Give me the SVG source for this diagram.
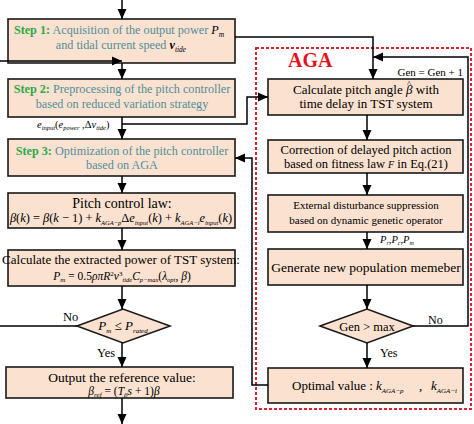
<svg xmlns="http://www.w3.org/2000/svg" width="474" height="424" viewBox="0 0 474 424">
<defs>
<marker id="ah" viewBox="0 0 10 10" refX="10" refY="5" markerWidth="10" markerHeight="10" markerUnits="userSpaceOnUse" orient="auto">
<path d="M0,0.5 L10,5 L0,9.5 Z" fill="#000"/>
</marker>
<style>
.box{fill:#fbe1cf;stroke:#1a1a1a;stroke-width:1.6}
.ln{fill:none;stroke:#000;stroke-width:1.5}
.t{font-family:"Liberation Serif","Times New Roman",serif;fill:#000}
.st{font-family:"Liberation Serif","Times New Roman",serif;fill:#4f8f9b;font-size:12.2px}
.g{fill:#2ea84a;font-weight:bold}
.i{font-style:italic}
</style>
</defs>
<rect width="474" height="424" fill="#fff"/>

<g id="aga-frame">
<rect x="256" y="48" width="215" height="361" fill="none" stroke="#e0202a" stroke-width="2" stroke-dasharray="3,2"/>
<text class="t" x="288" y="67" font-size="20" font-weight="bold" style="fill:#e8101c">AGA</text>
</g>

<g id="step1">
<rect class="box" x="8" y="19" width="227" height="44"/>
<text class="st" x="119" y="34" text-anchor="middle"><tspan class="g">Step 1:</tspan> Acquisition of the output power  <tspan class="i" fill="#000">P</tspan><tspan class="i" fill="#000" font-size="7.5" dy="3">m</tspan></text>
<text class="st" x="121" y="49" text-anchor="middle">and tidal current speed <tspan class="i" fill="#000" font-weight="bold">v</tspan><tspan class="i" fill="#000" font-size="7.5" dy="3">tide</tspan></text>
</g>

<g id="step2">
<rect class="box" x="8" y="79" width="227" height="38"/>
<text class="st" x="122" y="93" text-anchor="middle"><tspan class="g">Step 2:</tspan> Preprocessing of the pitch controller</text>
<text class="st" x="122" y="108" text-anchor="middle">based on reduced variation strategy</text>
</g>

<g id="step3">
<rect class="box" x="8" y="139" width="227" height="37"/>
<text class="st" x="122" y="155" text-anchor="middle"><tspan class="g">Step 3:</tspan> Optimization of the pitch controller</text>
<text class="st" x="122" y="169" text-anchor="middle">based on AGA</text>
</g>

<g id="pitch-law">
<rect class="box" x="8" y="193" width="227" height="35"/>
<text class="t" x="122" y="208" font-size="14" text-anchor="middle">Pitch control law:</text>
<text class="t" x="121" y="222" font-size="12.4" text-anchor="middle"><tspan class="i">β</tspan>(<tspan class="i">k</tspan>) = <tspan class="i">β</tspan>(<tspan class="i">k</tspan> − 1) + <tspan class="i">k</tspan><tspan class="i" font-size="6.5" dy="2.5">AGA−p</tspan><tspan dy="-2.5">Δ</tspan><tspan class="i">e</tspan><tspan class="i" font-size="6.5" dy="2.5">input</tspan><tspan dy="-2.5">(</tspan><tspan class="i">k</tspan>) + <tspan class="i">k</tspan><tspan class="i" font-size="6.5" dy="2.5">AGA−i</tspan><tspan class="i" dy="-2.5">e</tspan><tspan class="i" font-size="6.5" dy="2.5">input</tspan><tspan dy="-2.5">(</tspan><tspan class="i">k</tspan>)</text>
</g>

<g id="extracted-power">
<rect class="box" x="8" y="250" width="227" height="36"/>
<text class="t" x="121" y="264" font-size="13" text-anchor="middle">Calculate the extracted power of  TST system:</text>
<text class="t" x="122" y="280" font-size="11.5" text-anchor="middle"><tspan class="i">P</tspan><tspan class="i" font-size="7" dy="2">m</tspan><tspan dy="-2"> = 0.5</tspan><tspan class="i">ρπR</tspan><tspan font-size="7" dy="-4">2</tspan><tspan class="i" dy="4">v</tspan><tspan font-size="7" dy="-4">3</tspan><tspan class="i" font-size="6.5" dy="6">tide</tspan><tspan class="i" dy="-2">C</tspan><tspan class="i" font-size="6.5" dy="2">p−max</tspan><tspan dy="-2">(</tspan><tspan class="i">λ</tspan><tspan class="i" font-size="6.5" dy="2">opt</tspan><tspan dy="-2">, </tspan><tspan class="i">β</tspan>)</text>
</g>

<g id="decision-power">
<polygon class="box" points="77,326 123,309 170,326 123,343"/>
<text class="t" x="123" y="330" font-size="13" text-anchor="middle"><tspan class="i">P</tspan><tspan class="i" font-size="7" dy="2.5">m</tspan><tspan dy="-2.5"> ≤ </tspan><tspan class="i">P</tspan><tspan class="i" font-size="7" dy="2.5">rated</tspan></text>
<text class="t" x="63" y="321" font-size="12.5">No</text>
<text class="t" x="97" y="357" font-size="12.5">Yes</text>
</g>

<g id="output">
<rect class="box" x="6" y="367" width="227" height="31"/>
<text class="t" x="122" y="382" font-size="13.5" text-anchor="middle">Output the reference value:</text>
<text class="t" x="124" y="395" font-size="11.5" text-anchor="middle"><tspan class="i">β</tspan><tspan class="i" font-size="7" dy="2">ref</tspan><tspan dy="-2"> = (</tspan><tspan class="i">T</tspan><tspan class="i" font-size="7" dy="2">β</tspan><tspan class="i" dy="-2">s</tspan> + 1)<tspan class="i">β</tspan></text>
</g>

<g id="calc-pitch">
<rect class="box" x="268" y="79" width="195" height="36"/>
<text class="t" x="366" y="94" font-size="13" text-anchor="middle">Calculate pitch angle  <tspan class="i">β</tspan><tspan font-size="9" dx="-5.6" dy="-7">^</tspan><tspan dx="1.5" dy="7">  with</tspan></text>
<text class="t" x="366" y="108" font-size="13" text-anchor="middle">time delay in TST system</text>
</g>

<g id="correction">
<rect class="box" x="268" y="140" width="195" height="33"/>
<text class="t" x="366" y="154" font-size="12.5" text-anchor="middle">Correction of delayed pitch action</text>
<text class="t" x="366" y="168" font-size="12.5" text-anchor="middle">based on fitness law <tspan class="i" font-size="10">F</tspan> in Eq.(21)</text>
</g>

<g id="disturbance">
<rect class="box" x="268" y="195" width="195" height="37"/>
<text class="t" x="366" y="209" font-size="11" text-anchor="middle">External disturbance suppression</text>
<text class="t" x="366" y="224" font-size="11" text-anchor="middle">based on dynamic genetic operator</text>
</g>

<g id="generate">
<rect class="box" x="268" y="249" width="195" height="36"/>
<text class="t" x="366" y="272" font-size="13.5" text-anchor="middle">Generate  new population memeber</text>
</g>

<g id="decision-gen">
<polygon class="box" points="320,326 367,309 413,326 367,343"/>
<text class="t" x="367" y="331" font-size="12.5" text-anchor="middle">Gen &gt; max</text>
<text class="t" x="428" y="324" font-size="12">No</text>
<text class="t" x="380" y="357" font-size="12">Yes</text>
</g>

<g id="optimal">
<rect class="box" x="268" y="368" width="195" height="35"/>
<text class="t" x="292" y="390" font-size="13">Optimal value : </text>
<text class="t" x="376" y="390" font-size="13"><tspan class="i">k</tspan><tspan class="i" font-size="7" dy="2.5">AGA−p</tspan></text>
<text class="t" x="419" y="390" font-size="13">,</text>
<text class="t" x="431" y="390" font-size="13"><tspan class="i">k</tspan><tspan class="i" font-size="7" dy="2.5">AGA−i</tspan></text>
</g>

<g id="labels">
<text class="t" x="37" y="128" font-size="10.5"><tspan class="i">e</tspan><tspan class="i" font-size="6.5" dy="2">input</tspan><tspan dy="-2">(</tspan><tspan class="i">e</tspan><tspan class="i" font-size="6.5" dy="2">power</tspan><tspan dy="-2"> ,Δ</tspan><tspan class="i">v</tspan><tspan class="i" font-size="6.5" dy="2">tide</tspan><tspan dy="-2">)</tspan></text>
<text class="t" x="380" y="243" font-size="10.5"><tspan class="i">P</tspan><tspan class="i" font-size="6" dy="2">r</tspan><tspan dy="-2">,</tspan><tspan class="i">P</tspan><tspan class="i" font-size="6" dy="2">c</tspan><tspan dy="-2">,</tspan><tspan class="i">P</tspan><tspan class="i" font-size="6" dy="2">m</tspan></text>
<text class="t" x="463" y="76" font-size="11" text-anchor="end">Gen = Gen + 1</text>
</g>

<g id="connectors">
<path class="ln" d="M122,0 V19" marker-end="url(#ah)"/>
<path class="ln" d="M235,37 H373 V79" marker-end="url(#ah)"/>
<path class="ln" d="M0,61 H122" marker-end="url(#ah)"/>
<path class="ln" d="M122,63 V79" marker-end="url(#ah)"/>
<path class="ln" d="M122,117 V139" marker-end="url(#ah)"/>
<path class="ln" d="M122,124 H247 V97 H268" marker-end="url(#ah)"/>
<path class="ln" d="M122,176 V193" marker-end="url(#ah)"/>
<path class="ln" d="M122,228 V250" marker-end="url(#ah)"/>
<path class="ln" d="M122,286 V309" marker-end="url(#ah)"/>
<path class="ln" d="M77,326 H0"/>
<path class="ln" d="M122,343 V367" marker-end="url(#ah)"/>
<path class="ln" d="M122,398 V424" marker-end="url(#ah)"/>
<path class="ln" d="M268,385 H252 V158 H235" marker-end="url(#ah)"/>
<path class="ln" d="M367,115 V140" marker-end="url(#ah)"/>
<path class="ln" d="M367,173 V195" marker-end="url(#ah)"/>
<path class="ln" d="M367,232 V249" marker-end="url(#ah)"/>
<path class="ln" d="M367,285 V309" marker-end="url(#ah)"/>
<path class="ln" d="M367,343 V368" marker-end="url(#ah)"/>
<path class="ln" d="M413,326 H468 V57 H373" marker-end="url(#ah)"/>
</g>
</svg>
